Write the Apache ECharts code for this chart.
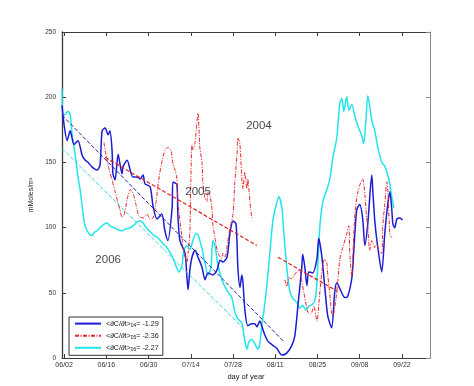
<!DOCTYPE html>
<html><head><meta charset="utf-8">
<script src="https://cdn.jsdelivr.net/npm/echarts@6/dist/echarts.min.js"></script>
<style>html,body{margin:0;padding:0;background:#fff}#c{width:474px;height:386px}</style>
</head><body><div id="c"></div>
<script>
// x tick positions (day of year) and labels
const tickDays = [153,167,181,195,209,223,237,251,265];
const tickLabels = ['06/02','06/16','06/30','07/14','07/28','08/11','08/25','09/08','09/22'];
const yTicks = [0,50,100,150,200,250];

// 2004 (blue solid)
const days04 = [152.3,153.0,154.0,155.0,156.3,157.6,159.0,160.0,160.9,162.3,163.9,164.9,165.6,166.6,167.6,168.2,168.9,169.2,169.9,170.9,172.2,172.5,173.9,174.9,175.8,177.2,178.2,179.2,179.8,181.5,182.5,183.8,185.4,186.4,187.4,188.8,189.1,190.4,190.7,191.4,193.1,193.7,194.1,194.7,195.4,196.4,197.4,198.7,199.7,200.7,202.3,203.7,204.7,205.6,207.0,208.0,209.0,210.0,210.6,211.3,211.9,212.3,212.9,213.9,215.2,216.2,216.9,217.9,218.6,219.6,220.6,222.2,223.5,225.2,226.8,228.5,229.5,230.5,231.8,232.1,232.8,233.5,234.1,235.4,236.8,237.4,238.4,239.4,240.4,241.7,242.7,243.4,245.0,246.0,247.0,248.4,249.0,250.0,251.0,252.0,252.7,253.7,255.0,255.3,256.0,257.0,258.3,259.3,260.3,261.0,261.6,262.0,262.6,263.3,264.3,265.2];
const vals04 = [193.7,178.7,166.7,174.2,163.7,166.7,155.4,151.7,150.2,146.4,144.2,147.9,174.2,176.4,171.2,174.2,159.2,141.2,136.6,156.2,141.2,146.4,151.7,144.2,138.9,138.9,137.4,140.4,133.6,131.4,116.4,106.6,110.4,97.6,90.1,114.9,135.1,132.9,110.4,90.1,80.3,62.3,52.6,67.6,77.3,82.6,77.3,69.8,60.1,65.3,63.8,67.6,75.1,73.6,77.3,96.1,105.1,102.9,69.8,54.1,63.8,57.8,37.5,24.8,26.3,26.3,24.0,28.5,24.0,17.3,12.8,9.8,7.5,2.3,3.8,9.8,17.3,39.8,69.8,79.6,69.8,55.6,66.1,65.3,75.8,91.6,78.8,54.8,32.3,23.3,50.3,57.8,50.3,46.5,47.3,61.6,81.1,113.4,117.9,106.6,86.3,103.6,140.4,129.9,105.1,84.8,66.1,95.4,117.9,127.6,114.9,102.9,99.9,106.6,107.4,105.9];

// 2005 (red dash-dot), two pieces
const days05a = [166.2,166.9,167.9,168.9,169.9,170.9,171.5,172.2,172.9,173.9,174.9,175.8,176.8,177.8,179.2,180.5,181.5,182.5,183.5,184.5,185.4,186.4,187.4,188.4,189.1,189.8,190.4,190.7,191.4,192.1,192.4,193.7,194.1,194.7,195.0,195.4,195.7,196.4,197.0,197.4,198.0,198.7,199.0,199.7,200.3,200.7,201.3,202.0,202.3,203.0,204.0,205.3,205.6,206.3,207.3,208.0,209.0,209.6,210.3,210.6,211.3,211.9,212.3,212.9,213.6,213.9,214.6,215.2];
const vals05a = [165.2,155.4,144.9,136.6,127.6,118.6,114.1,108.1,109.6,121.6,129.1,126.9,117.9,108.9,107.4,110.4,106.6,107.4,120.1,138.9,150.2,159.2,161.4,159.2,148.7,144.2,137.4,120.1,105.1,92.3,84.8,73.6,80.3,97.6,135.1,163.7,159.9,165.2,180.2,187.7,161.4,150.2,135.1,122.4,120.1,126.9,125.4,114.9,102.9,92.3,80.3,76.6,80.3,77.3,90.1,99.9,110.4,135.1,155.4,168.9,163.7,137.4,129.9,142.7,129.9,137.4,120.1,107.4];
const days05b = [226.2,226.8,227.5,228.5,229.2,230.1,231.1,231.8,232.8,233.8,234.8,235.8,236.8,237.8,238.8,239.4,240.1,240.4,241.1,241.7,242.1,243.1,243.7,244.4,245.4,246.7,247.4,247.7,248.4,248.7,249.4,250.4,251.3,252.0,252.7,253.3,253.7,254.3,255.0,256.0,256.6,257.3,258.3,258.6,259.3,260.0,260.3,261.0,261.6];
const vals05b = [60.1,54.8,61.6,60.8,63.1,66.1,67.6,58.6,46.5,35.3,33.8,39.8,28.5,51.1,72.8,75.8,72.8,63.8,48.8,33.8,32.3,45.0,57.8,75.8,84.8,95.4,101.4,80.3,62.3,77.3,110.4,127.6,134.4,137.4,125.4,107.4,99.9,82.6,90.1,84.8,87.8,82.6,80.3,99.9,117.9,135.1,129.9,95.4,92.3];

// 2006 (cyan solid)
const days06 = [152.3,152.7,153.7,154.3,155.0,155.6,156.3,157.0,157.6,158.3,159.0,159.6,160.3,161.3,162.3,162.9,163.9,164.9,165.9,167.2,168.2,169.6,170.9,172.2,173.5,174.9,176.2,177.2,178.2,179.2,180.2,181.5,182.8,184.1,185.4,186.8,188.1,189.1,190.1,191.1,192.1,192.7,193.7,194.7,195.7,196.7,197.4,198.7,199.7,200.7,201.7,202.3,203.0,204.0,205.3,206.3,207.6,208.6,209.6,210.6,211.9,212.9,213.6,214.3,215.2,216.2,217.2,217.9,218.6,219.2,220.2,221.2,222.2,223.2,224.2,225.2,225.8,226.8,227.8,228.8,230.1,231.1,232.1,233.1,234.1,235.4,236.4,237.1,237.8,238.8,240.1,241.1,242.1,243.4,244.4,245.1,245.7,246.7,247.4,248.4,249.4,250.4,251.7,252.3,253.0,253.7,254.3,255.0,256.0,257.0,258.3,259.3,260.3,261.0,261.6,262.3];
const vals06 = [206.5,185.4,187.7,189.2,186.9,172.7,161.4,150.2,138.9,129.1,116.4,105.1,99.1,95.4,93.9,96.1,97.6,99.9,102.1,103.6,101.4,99.9,98.4,97.6,99.1,99.9,102.1,104.4,105.1,103.6,99.9,96.9,93.9,92.3,88.6,85.6,81.1,76.6,70.6,66.1,71.3,82.6,86.3,83.3,90.1,95.4,94.6,84.1,72.8,63.8,69.8,90.1,86.3,71.3,60.1,54.8,49.6,46.5,35.3,30.0,27.0,13.5,6.8,12.8,14.3,11.3,6.8,11.3,26.3,35.3,55.6,80.3,105.1,116.4,123.9,114.9,97.6,69.8,51.8,45.8,42.8,38.3,40.5,36.8,39.8,41.3,46.5,71.3,101.4,120.1,129.1,137.4,153.9,168.9,195.2,199.0,189.2,200.5,190.0,194.5,185.4,177.9,170.4,164.4,180.2,201.2,193.7,182.4,174.2,161.4,150.2,147.2,140.4,132.9,123.9,114.9];

// linear trends: [startDay, startVal, endDay, endVal]
const trend04 = [152.3,186.2,225.8,12.8];
const trend05a = [166.6,153.9,216.9,86.3];
const trend05b = [223.9,77.3,243.7,51.1];
const trend06 = [152.3,160.7,211.9,24.0];

// legend
const legendNames = ['04','05','06'];
const legendSlopes = ['-1.29','-2.36','-2.27'];

// year annotations
const annotText = ['2004','2005','2006'];
const annotDays = [217.6,197.4,167.6];
const annotVals = [178,127.5,75.5];

const zip = (a,b) => a.map((d,i)=>[d,b[i]]);
const seg = t => [[t[0],t[1]],[t[2],t[3]]];

const FONT = 'Liberation Sans, Arial, sans-serif';
const BLUE = '#1c1cd2', RED = '#e8272a', CYAN = '#22e4ec';
const axisColDark = '#3a3a3a', axisColLight = '#8a8a8a';

const chart = echarts.init(document.getElementById('c'), null, {renderer:'canvas'});
const xBase = {type:'value', min:152.3, max:274.3, splitLine:{show:false}};
const yBase = {type:'value', min:0, max:250, interval:50, splitLine:{show:false}};
chart.setOption({
  animation:false,
  backgroundColor:'#fff',
  grid:{left:62, right:44, top:32, bottom:21},
  xAxis:[
    Object.assign({}, xBase, {position:'bottom',
      axisLine:{show:true, onZero:false, lineStyle:{color:axisColDark, width:1}},
      axisTick:{show:true, inside:true, length:4, customValues:tickDays, lineStyle:{color:axisColDark}},
      axisLabel:{customValues:tickDays, formatter:v=>tickLabels[tickDays.indexOf(Math.round(v))]||'', fontSize:7, color:'#333', margin:3, fontFamily:FONT},
      name:'day of year', nameLocation:'middle', nameGap:12,
      nameTextStyle:{fontSize:7.5, color:'#222', fontFamily:FONT}}),
    Object.assign({}, xBase, {position:'top',
      axisLine:{show:true, onZero:false, lineStyle:{color:axisColDark, width:1}},
      axisTick:{show:true, inside:true, length:4, customValues:tickDays, lineStyle:{color:axisColDark}},
      axisLabel:{show:false}})
  ],
  yAxis:[
    Object.assign({}, yBase, {position:'left',
      axisLine:{show:true, onZero:false, lineStyle:{color:axisColDark, width:1.3}},
      axisTick:{show:true, inside:true, length:4, lineStyle:{color:axisColDark}},
      axisLabel:{fontSize:6.5, color:'#333', margin:6, fontFamily:FONT},
      name:'mMoles/m³', nameLocation:'middle', nameGap:21, nameRotate:90,
      nameTextStyle:{fontSize:7, color:'#222', fontFamily:FONT}}),
    Object.assign({}, yBase, {position:'right',
      axisLine:{show:true, onZero:false, lineStyle:{color:axisColLight, width:1}},
      axisTick:{show:true, inside:true, length:4, lineStyle:{color:axisColLight}},
      axisLabel:{show:false}})
  ],
  legend:{
    data:legendNames, orient:'vertical', left:69, top:317,
    backgroundColor:'#fff', borderColor:'#333', borderWidth:1,
    padding:[3,4,3,5], itemGap:4, itemWidth:26, itemHeight:9,
    selectedMode:false,
    itemStyle:{opacity:0},
    textStyle:{fontSize:7, color:'#222', fontFamily:FONT,
      rich:{
        m:{fontSize:7.2, color:'#222', fontFamily:FONT, verticalAlign:'middle'},
        s:{fontSize:5, color:'#222', fontFamily:FONT, verticalAlign:'bottom', padding:[4,0,0,0]}
      }},
    formatter: n => {
      const i = legendNames.indexOf(n);
      return '{m|<∂C/∂t>}{s|' + n + '}{m|= ' + legendSlopes[i] + '}';
    }
  },
  series:[
    {name:'04', type:'line', data:zip(days04,vals04), symbol:'none', smooth:0.25,
      lineStyle:{color:BLUE, width:1.5}, itemStyle:{color:BLUE}, z:3},
    {name:'05', type:'line', data:zip(days05a,vals05a), symbol:'none', smooth:0.25,
      lineStyle:{color:RED, width:1, type:[4,1.5,1,1.5]}, itemStyle:{color:RED}, z:4},
    {name:'05b', type:'line', data:zip(days05b,vals05b), symbol:'none', smooth:0.25,
      lineStyle:{color:RED, width:1, type:[4,1.5,1,1.5]}, z:4},
    {name:'06', type:'line', data:zip(days06,vals06), symbol:'none', smooth:0.25,
      lineStyle:{color:CYAN, width:1.5}, itemStyle:{color:CYAN}, z:2},
    {name:'t04', type:'line', data:seg(trend04), symbol:'none',
      lineStyle:{color:'#2020a8', width:1, type:[4,2]}, z:5},
    {name:'t05a', type:'line', data:seg(trend05a), symbol:'none',
      lineStyle:{color:'#e02020', width:1.2, type:[4,2]}, z:5},
    {name:'t05b', type:'line', data:seg(trend05b), symbol:'none',
      lineStyle:{color:'#e02020', width:1.2, type:[4,2]}, z:5},
    {name:'t06', type:'line', data:seg(trend06), symbol:'none',
      lineStyle:{color:'#33d8e0', width:1, type:[4,2]}, z:5},
    {name:'annot', type:'scatter', symbolSize:0, silent:true,
      data:annotDays.map((d,i)=>({value:[d,annotVals[i]], label:{formatter:annotText[i]}})),
      label:{show:true, position:'inside', fontSize:11.5, color:'#111', fontFamily:FONT}, z:6}
  ]
});
</script></body></html>
